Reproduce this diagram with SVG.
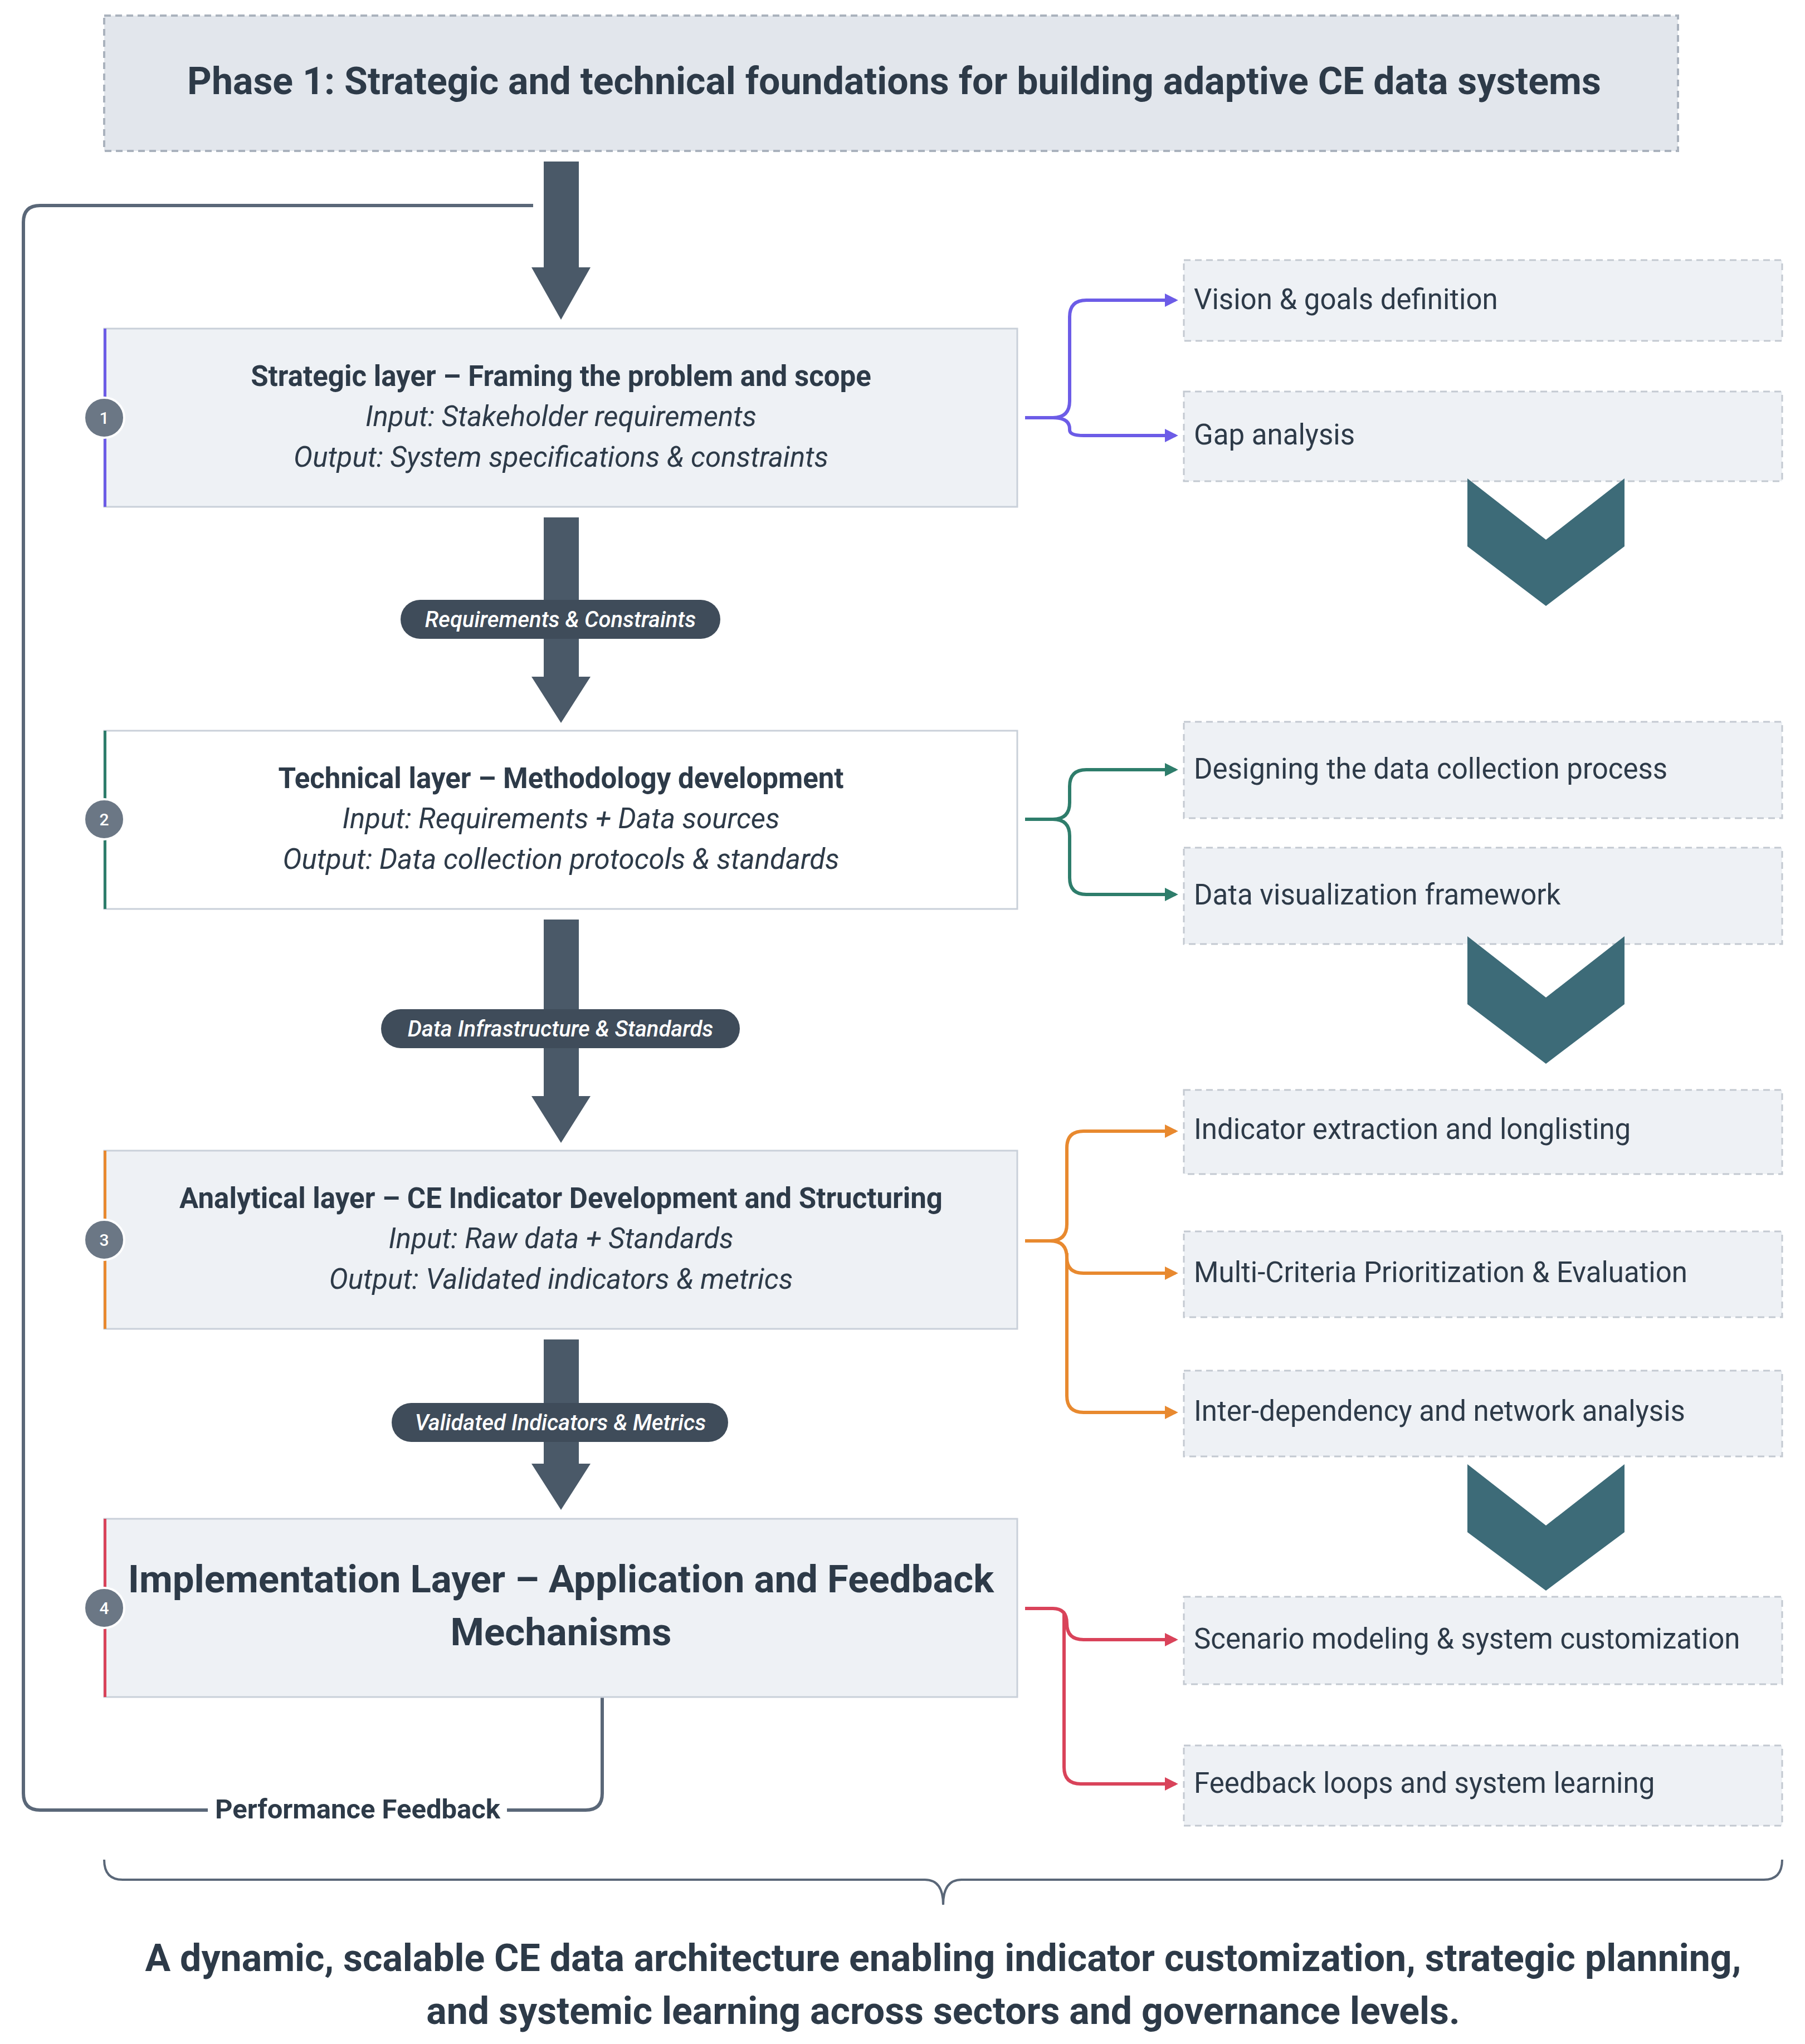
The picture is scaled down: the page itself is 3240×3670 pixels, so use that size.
<svg xmlns="http://www.w3.org/2000/svg" width="3240" height="3670" viewBox="0 0 3240 3670">
<style>
text{font-family:Roboto,"Noto Sans","Liberation Sans",sans-serif;fill:#2d3a48}
.lb{fill:#eef1f5;stroke:#c9d0d9;stroke-width:3}
.rb{fill:#eef1f5;stroke:#c3c9d1;stroke-width:3;stroke-dasharray:12 8}
.ttl{font-size:51px;font-weight:700}
.io{font-size:51px;font-style:italic}
.rt{font-size:51px}
.pill{fill:#3f4c5a}
.pt{font-size:40px;font-style:italic;font-weight:500;fill:#fff}
.num{fill:#6b7785;stroke:#fff;stroke-width:4}
.nt{font-size:30px;fill:#fff;font-weight:500}
.arr{fill:#4a5968}
.chev{fill:#3d6b78}
.br{fill:none;stroke-width:6}
</style>
<defs>
<marker id="mp" viewBox="0 0 10 10" refX="8" refY="5" markerWidth="4" markerHeight="4" orient="auto"><path d="M0,0 L10,5 L0,10z" fill="#6c5ce7"/></marker>
<marker id="mg" viewBox="0 0 10 10" refX="8" refY="5" markerWidth="4" markerHeight="4" orient="auto"><path d="M0,0 L10,5 L0,10z" fill="#2e7d6b"/></marker>
<marker id="mo" viewBox="0 0 10 10" refX="8" refY="5" markerWidth="4" markerHeight="4" orient="auto"><path d="M0,0 L10,5 L0,10z" fill="#e8892f"/></marker>
<marker id="mr" viewBox="0 0 10 10" refX="8" refY="5" markerWidth="4" markerHeight="4" orient="auto"><path d="M0,0 L10,5 L0,10z" fill="#d9435a"/></marker>
</defs>
<rect width="3240" height="3670" fill="#fff"/>
<g id="title">
<rect x="187" y="28" width="2825" height="243" fill="#e2e6ec" stroke="#aab2bd" stroke-width="4" stroke-dasharray="12 8"/>
<text x="1605" y="169" text-anchor="middle" font-size="68" font-weight="700">Phase 1: Strategic and technical foundations for building adaptive CE data systems</text>
</g>
<g id="connectors">
<path d="M957,369 H72 Q42,369 42,399 V3220 Q42,3250 72,3250 H373 M910,3250 H1051 Q1081,3250 1081,3220 V3047" fill="none" stroke="#5a6778" stroke-width="6"/>
<polygon class="arr" points="976,290 1039,290 1039,480 1060,480 1007,574 954,480 976,480"/>
<polygon class="arr" points="976,929 1039,929 1039,1215 1060,1215 1007,1298 954,1215 976,1215"/>
<polygon class="arr" points="976,1651 1039,1651 1039,1968 1060,1968 1007,2052 954,1968 976,1968"/>
<polygon class="arr" points="976,2405 1039,2405 1039,2628 1060,2628 1007,2711 954,2628 976,2628"/>
<path class="br" stroke="#6c5ce7" marker-end="url(#mp)" d="M1840,750 H1890 Q1920,750 1920,720 V569 Q1920,539 1950,539 H2110"/>
<path class="br" stroke="#6c5ce7" marker-end="url(#mp)" d="M1890,750 Q1920,750 1920,770 V772 Q1920,782 1945,782 H2110"/>
<path class="br" stroke="#2e7d6b" marker-end="url(#mg)" d="M1840,1471 H1890 Q1920,1471 1920,1441 V1412 Q1920,1382 1950,1382 H2110"/>
<path class="br" stroke="#2e7d6b" marker-end="url(#mg)" d="M1890,1471 Q1920,1471 1920,1501 V1576 Q1920,1606 1950,1606 H2110"/>
<path class="br" stroke="#e8892f" marker-end="url(#mo)" d="M1840,2228 H1885 Q1915,2228 1915,2198 V2061 Q1915,2031 1945,2031 H2110"/>
<path class="br" stroke="#e8892f" marker-end="url(#mo)" d="M1885,2228 Q1915,2228 1915,2258 Q1915,2286 1945,2286 H2110"/>
<path class="br" stroke="#e8892f" marker-end="url(#mo)" d="M1915,2250 V2506 Q1915,2536 1945,2536 H2110"/>
<path class="br" stroke="#d9435a" marker-end="url(#mr)" d="M1840,2888 H1890 Q1915,2888 1915,2915 Q1915,2944 1945,2944 H2110"/>
<path class="br" stroke="#d9435a" marker-end="url(#mr)" d="M1910,2895 V3173 Q1910,3203 1940,3203 H2110"/>
</g>
<text x="642" y="3265" text-anchor="middle" font-size="49" font-weight="700">Performance Feedback</text>
<g id="pill1"><rect class="pill" x="719" y="1077" width="574" height="70" rx="35"/><text class="pt" x="1006" y="1126" text-anchor="middle">Requirements &amp; Constraints</text></g>
<g id="pill2"><rect class="pill" x="684" y="1812" width="644" height="70" rx="35"/><text class="pt" x="1006" y="1861" text-anchor="middle">Data Infrastructure &amp; Standards</text></g>
<g id="pill3"><rect class="pill" x="703" y="2519" width="604" height="70" rx="35"/><text class="pt" x="1006" y="2568" text-anchor="middle">Validated Indicators &amp; Metrics</text></g>
<g id="layer1">
<rect class="lb" x="187" y="590" width="1639" height="320"/><rect x="186" y="590" width="5" height="320" fill="#6c5ce7"/>
<text class="ttl" x="1007" y="693" text-anchor="middle">Strategic layer – Framing the problem and scope</text>
<text class="io" x="1007" y="765" text-anchor="middle">Input: Stakeholder requirements</text>
<text class="io" x="1007" y="838" text-anchor="middle">Output: System specifications &amp; constraints</text>
<circle class="num" cx="187" cy="750" r="36"/><text class="nt" x="187" y="761" text-anchor="middle">1</text>
</g>
<g id="layer2">
<rect x="187" y="1312" width="1639" height="320" fill="#fff" stroke="#c9d0d9" stroke-width="3"/><rect x="186" y="1312" width="5" height="320" fill="#2e7d6b"/>
<text class="ttl" x="1007" y="1415" text-anchor="middle">Technical layer – Methodology development</text>
<text class="io" x="1007" y="1487" text-anchor="middle">Input: Requirements + Data sources</text>
<text class="io" x="1007" y="1560" text-anchor="middle">Output: Data collection protocols &amp; standards</text>
<circle class="num" cx="187" cy="1471" r="36"/><text class="nt" x="187" y="1482" text-anchor="middle">2</text>
</g>
<g id="layer3">
<rect class="lb" x="187" y="2066" width="1639" height="320"/><rect x="186" y="2066" width="5" height="320" fill="#e8892f"/>
<text class="ttl" x="1007" y="2169" text-anchor="middle">Analytical layer – CE Indicator Development and Structuring</text>
<text class="io" x="1007" y="2241" text-anchor="middle">Input: Raw data + Standards</text>
<text class="io" x="1007" y="2314" text-anchor="middle">Output: Validated indicators &amp; metrics</text>
<circle class="num" cx="187" cy="2226" r="36"/><text class="nt" x="187" y="2237" text-anchor="middle">3</text>
</g>
<g id="layer4">
<rect class="lb" x="187" y="2727" width="1639" height="320"/><rect x="186" y="2727" width="5" height="320" fill="#d9435a"/>
<text x="1007" y="2859" text-anchor="middle" font-size="69" font-weight="700">Implementation Layer – Application and Feedback</text>
<text x="1007" y="2954" text-anchor="middle" font-size="69" font-weight="700">Mechanisms</text>
<circle class="num" cx="187" cy="2887" r="36"/><text class="nt" x="187" y="2898" text-anchor="middle">4</text>
</g>
<g id="r1"><rect class="rb" x="2125" y="467" width="1074" height="145"/><text class="rt" x="2143" y="555">Vision &amp; goals definition</text></g>
<g id="r2"><rect class="rb" x="2125" y="703" width="1074" height="161"/><text class="rt" x="2143" y="798">Gap analysis</text></g>
<g id="r3"><rect class="rb" x="2125" y="1296" width="1074" height="173"/><text class="rt" x="2143" y="1398">Designing the data collection process</text></g>
<g id="r4"><rect class="rb" x="2125" y="1522" width="1074" height="173"/><text class="rt" x="2143" y="1624">Data visualization framework</text></g>
<g id="r5"><rect class="rb" x="2125" y="1957" width="1074" height="151"/><text class="rt" x="2143" y="2045">Indicator extraction and longlisting</text></g>
<g id="r6"><rect class="rb" x="2125" y="2211" width="1074" height="154"/><text class="rt" x="2143" y="2302">Multi-Criteria Prioritization &amp; Evaluation</text></g>
<g id="r7"><rect class="rb" x="2125" y="2461" width="1074" height="154"/><text class="rt" x="2143" y="2551">Inter-dependency and network analysis</text></g>
<g id="r8"><rect class="rb" x="2125" y="2867" width="1074" height="157"/><text class="rt" x="2143" y="2960">Scenario modeling &amp; system customization</text></g>
<g id="r9"><rect class="rb" x="2125" y="3134" width="1074" height="144"/><text class="rt" x="2143" y="3219">Feedback loops and system learning</text></g>
<g id="chevrons">
<polygon class="chev" points="2634,859 2775,969 2916,859 2916,981 2775,1088 2634,981"/>
<polygon class="chev" points="2634,1681 2775,1791 2916,1681 2916,1803 2775,1910 2634,1803"/>
<polygon class="chev" points="2634,2629 2775,2739 2916,2629 2916,2751 2775,2856 2634,2751"/>
</g>
<g id="brace">
<path d="M187,3339 Q187,3375 220,3375 H1660 Q1693,3375 1693,3420 Q1693,3375 1726,3375 H3166 Q3199,3375 3199,3339" fill="none" stroke="#5a6778" stroke-width="4"/>
<text x="1693" y="3539" text-anchor="middle" font-size="68" font-weight="700">A dynamic, scalable CE data architecture enabling indicator customization, strategic planning,</text>
<text x="1693" y="3634" text-anchor="middle" font-size="68" font-weight="700">and systemic learning across sectors and governance levels.</text>
</g>
</svg>
